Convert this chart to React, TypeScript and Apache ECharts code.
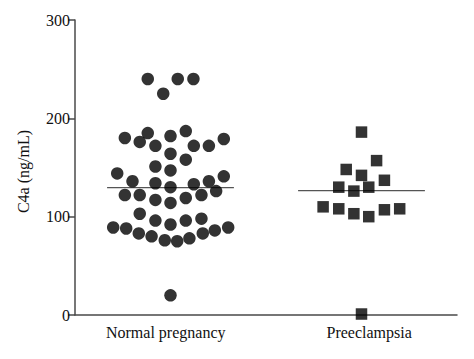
import React, { useEffect, useRef } from "react";
import * as echarts from "echarts";

const categories = ["Normal pregnancy", "Preeclampsia"];
const categoryCenters = [1, 2];
const labelPositions = [0.975, 2.04];
const yTicks = [0, 100, 200, 300];

// [horizontal offset from group centre, C4a value]
const normalPoints: [number, number][] = [
  [-0.119, 240], [0.038, 240], [0.12, 240], [-0.038, 225],
  [-0.239, 180], [-0.119, 185], [-0.161, 176], [-0.079, 172], [0, 182], [0.08, 187], [0.122, 172], [0.201, 172], [0.279, 179],
  [0, 164], [0.08, 158],
  [-0.079, 151], [0, 147], [-0.279, 144],
  [-0.199, 136], [-0.079, 134], [0, 130], [0.122, 133], [0.201, 136], [0.279, 141],
  [-0.239, 122], [-0.161, 122], [-0.079, 117], [0, 114], [0.08, 119], [0.162, 122], [0.239, 126],
  [-0.161, 103], [-0.079, 96], [0, 92], [0.08, 96], [0.162, 98],
  [-0.3, 89], [-0.232, 88], [-0.166, 83], [-0.099, 80], [-0.03, 76], [0.035, 75], [0.099, 78], [0.169, 83], [0.232, 86], [0.302, 89],
  [0, 20],
];

const preeclampsiaPoints: [number, number][] = [
  [0, 186], [0.079, 157], [-0.08, 148], [0, 142], [0.12, 137],
  [-0.119, 130], [0.038, 130], [-0.04, 126],
  [-0.201, 110], [-0.119, 108], [-0.04, 103], [0.038, 100], [0.12, 107], [0.2, 108],
  [0, 1],
];

const means = [129.5, 126.4];
const meanHalfWidth = 0.332;

export default function App() {
  const ref = useRef<HTMLDivElement>(null);
  useEffect(() => {
    if (!ref.current) return;
    const chart = echarts.init(ref.current, null, { renderer: "svg" });
    const font = "'Liberation Serif', 'DejaVu Serif', serif";
    const toData = (pts: [number, number][], c: number) => pts.map(([o, v]) => [c + o, v]);
    chart.setOption({
      animation: false,
      backgroundColor: "#ffffff",
      grid: { left: 75, right: 17, top: 20, bottom: 44 },
      xAxis: {
        type: "value",
        min: 0.5,
        max: 2.5,
        splitLine: { show: false },
        axisTick: { show: false },
        axisLine: { lineStyle: { color: "#4a4a4a", width: 1.5 } },
        axisLabel: {
          customValues: labelPositions,
          margin: 9,
          color: "#111",
          fontSize: 16,
          fontFamily: font,
          formatter: (v: number) => {
            let best = 0;
            labelPositions.forEach((p, i) => {
              if (Math.abs(p - v) < Math.abs(labelPositions[best] - v)) best = i;
            });
            return categories[best];
          },
        },
      },
      yAxis: {
        type: "value",
        min: 0,
        max: 300,
        interval: 100,
        name: "C4a (ng/mL)",
        nameLocation: "middle",
        nameGap: 44,
        nameTextStyle: { color: "#111", fontSize: 16, fontFamily: font, padding: [0, 8, 0, 0] },
        splitLine: { show: false },
        axisLine: { show: true, lineStyle: { color: "#4a4a4a", width: 1.5 } },
        axisTick: { show: true, length: 7, lineStyle: { color: "#4a4a4a", width: 1.5 }, customValues: yTicks },
        axisLabel: { margin: 5, color: "#111", fontSize: 16, fontFamily: font },
      },
      series: [
        {
          type: "scatter",
          symbol: "circle",
          symbolSize: 12.5,
          itemStyle: { color: "#000" },
          data: toData(normalPoints, categoryCenters[0]),
          z: 3,
        },
        {
          type: "scatter",
          symbol: "rect",
          symbolSize: 11.5,
          itemStyle: { color: "#000" },
          data: toData(preeclampsiaPoints, categoryCenters[1]),
          z: 3,
        },
        ...means.map((m, i) => ({
          type: "line",
          symbol: "none",
          lineStyle: { color: "#555", width: 1.3 },
          data: [
            [categoryCenters[i] - meanHalfWidth, m],
            [categoryCenters[i] + meanHalfWidth, m],
          ],
          z: 2,
        })),
      ],
    });
    return () => chart.dispose();
  }, []);
  return <div ref={ref} style={{ width: 474, height: 359, position: "absolute", left: 0, top: 0 }} />;
}
